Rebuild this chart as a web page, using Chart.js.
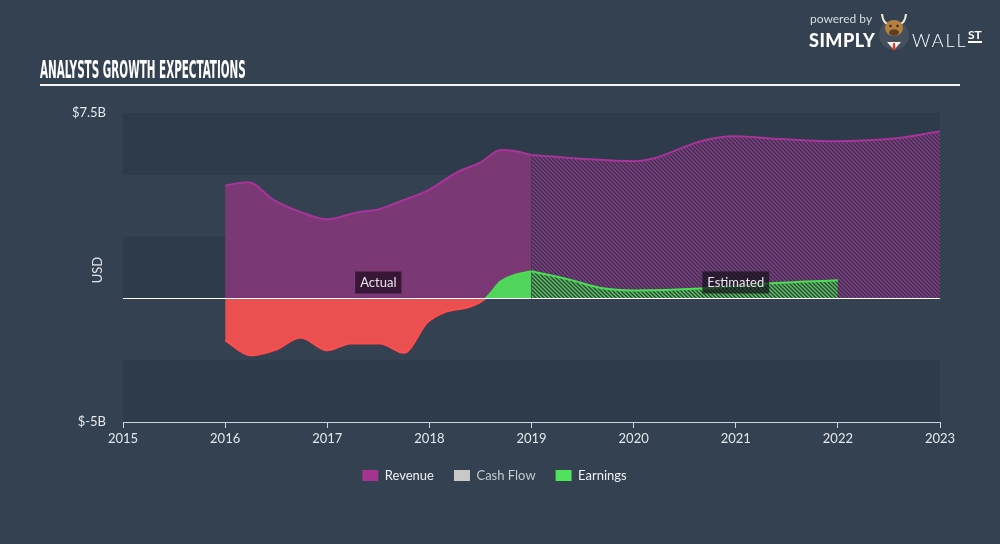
<!DOCTYPE html>
<html>
<head>
<meta charset="utf-8">
<script src="https://cdn.jsdelivr.net/npm/chart.js@4.4.1/dist/chart.umd.min.js"></script>
<style>
  html, body { margin: 0; padding: 0; background: #334150; }
  #wrap { position: relative; width: 1000px; height: 544px; overflow: hidden; font-family: Lato, "Open Sans", sans-serif; }
  #chart { position: absolute; left: 0; top: 0; }
  #title { position: absolute; left: 40px; top: 57px; color: #fff; font-family: "Liberation Sans Narrow", "DejaVu Sans Condensed", sans-serif; font-weight: bold; font-size: 24px; line-height: 26px; white-space: nowrap; transform-origin: 0 0; }
  #rule { position: absolute; left: 40px; top: 84px; width: 920px; height: 2px; background: #f2f4f6; }
  #logo { position: absolute; left: 809px; top: 10px; width: 180px; height: 42px; color: #fff; }
  #logo .pb { position: absolute; left: 1px; top: 1px; font-size: 12px; color: #d9dde2; }
  #logo .simply { position: absolute; left: 0; top: 19px; font-size: 18px; font-weight: 900; letter-spacing: 0.5px; }
  #logo .bull { position: absolute; left: 68px; top: 1px; width: 34px; height: 40px; }
  #logo .wall { position: absolute; left: 103px; top: 19px; font-size: 18px; font-weight: 300; letter-spacing: 2px; }
  #logo .st { position: absolute; left: 159px; top: 18px; font-size: 12px; font-weight: 700; border-bottom: 2px solid #fff; line-height: 13px; }
</style>
</head>
<body>
<div id="wrap">
  <canvas id="chart" width="1000" height="544"></canvas>
  <div id="title">ANALYSTS GROWTH EXPECTATIONS</div>
  <div id="rule"></div>
  <div id="logo">
    <span class="pb">powered by</span>
    <span class="simply">SIMPLY</span>
    <svg class="bull" viewBox="0 0 34 40">
      <circle cx="17" cy="24" r="15" fill="#46505c"/>
      <path d="M5 3 Q6 12 11 13 M29 3 Q28 12 23 13" stroke="#eee6d4" stroke-width="2.2" fill="none"/>
      <ellipse cx="17" cy="17" rx="9" ry="8" fill="#b5803e"/>
      <ellipse cx="17" cy="21.5" rx="5" ry="3.2" fill="#5d3e22"/>
      <circle cx="13.5" cy="15" r="1.2" fill="#222"/>
      <circle cx="20.5" cy="15" r="1.2" fill="#222"/>
      <path d="M10 31 L17 39 L24 31 Z" fill="#f2f2f2"/>
      <path d="M16 32 L18 32 L18.6 39 L15.4 39 Z" fill="#d8402a"/>
    </svg>
    <span class="wall">WALL</span>
    <span class="st">ST</span>
  </div>
</div>
<script>
// Analysts growth expectations (values in $ billions)
const revenueActualX = [2016, 2016.23, 2016.47, 2016.75, 2017, 2017.29, 2017.5, 2017.72, 2018, 2018.27, 2018.5, 2018.7, 2018.85, 2019];
const revenueActualY = [4.57, 4.7, 4.0, 3.48, 3.2, 3.48, 3.6, 3.93, 4.4, 5.1, 5.5, 6.0, 5.95, 5.8];
const revenueEstX = [2019, 2019.48, 2020, 2020.2, 2020.66, 2020.98, 2021.31, 2021.96, 2022.62, 2023];
const revenueEstY = [5.8, 5.65, 5.55, 5.67, 6.36, 6.56, 6.48, 6.36, 6.5, 6.76];

const earningsActualX = [2016, 2016.25, 2016.5, 2016.74, 2017, 2017.23, 2017.52, 2017.75, 2017.98, 2018.14, 2018.4, 2018.55, 2018.7, 2018.85, 2019];
const earningsActualY = [-1.7, -2.3, -2.07, -1.58, -2.1, -1.82, -1.82, -2.2, -0.97, -0.57, -0.33, 0, 0.69, 0.97, 1.1];
const earningsEstX = [2019, 2019.38, 2019.68, 2020, 2020.66, 2021.31, 2022];
const earningsEstY = [1.1, 0.75, 0.42, 0.32, 0.4, 0.6, 0.73];

const yearTicks = [2015, 2016, 2017, 2018, 2019, 2020, 2021, 2022, 2023];
const yTickValues = [-5, 7.5];
const bandEdges = [-5, -2.5, 0, 2.5, 5, 7.5];

const legendNames = ['Revenue', 'Cash Flow', 'Earnings'];
const legendColors = ['#a6338f', '#c9c9c9', '#4fe25a'];

const FONT = 'Lato, "Open Sans", sans-serif';

function toPoints(xs, ys) {
  return xs.map((x, i) => ({ x: x, y: ys[i] }));
}

function makeHatch(bg, stripe) {
  const c = document.createElement('canvas');
  c.width = 4; c.height = 4;
  const g = c.getContext('2d');
  g.fillStyle = bg;
  g.fillRect(0, 0, 4, 4);
  g.strokeStyle = stripe;
  g.lineWidth = 1.3;
  g.beginPath();
  g.moveTo(-1, -1); g.lineTo(5, 5);
  g.moveTo(-1, 3); g.lineTo(1, 5);
  g.moveTo(3, -1); g.lineTo(5, 1);
  g.stroke();
  return g.createPattern(c, 'repeat');
}

const ctx = document.getElementById('chart').getContext('2d');
const revenueHatch = makeHatch('#3a3350', '#8a3d86');
const earningsHatch = makeHatch('#35493f', '#55c85e');

const RED_LINE = '#ff4c4f';
const GREEN_LINE = '#48e052';

// background bands, zero line, USD label and Actual/Estimated boxes
const decorPlugin = {
  id: 'decor',
  beforeDatasetsDraw(chart) {
    const { ctx, chartArea, scales } = chart;
    const y = scales.y;
    ctx.save();
    for (let i = 0; i < bandEdges.length - 1; i++) {
      const top = y.getPixelForValue(bandEdges[i + 1]);
      const bot = y.getPixelForValue(bandEdges[i]);
      ctx.fillStyle = (i % 2 === 0) ? '#2e3b4a' : '#334150';
      ctx.fillRect(chartArea.left, top, chartArea.right - chartArea.left, bot - top);
    }
    ctx.restore();
  },
  afterDatasetsDraw(chart) {
    const { ctx, chartArea, scales } = chart;
    const x = scales.x, y = scales.y;
    const zy = Math.round(y.getPixelForValue(0)) + 0.5;
    ctx.save();
    ctx.strokeStyle = '#ffffff';
    ctx.lineWidth = 1;
    ctx.beginPath();
    ctx.moveTo(chartArea.left, zy);
    ctx.lineTo(chartArea.right, zy);
    ctx.stroke();

    ctx.font = '13px ' + FONT;
    ctx.textAlign = 'center';
    ctx.textBaseline = 'middle';
    const boxes = [['Actual', 2017.5, 'rgba(30,10,30,0.72)'], ['Estimated', 2021.0, 'rgba(20,15,25,0.7)']];
    boxes.forEach(b => {
      const cx = x.getPixelForValue(b[1]);
      const w = ctx.measureText(b[0]).width + 10;
      ctx.fillStyle = b[2];
      ctx.fillRect(cx - w / 2, zy - 27, w, 22);
      ctx.fillStyle = '#e6e6ea';
      ctx.fillText(b[0], cx, zy - 15.5);
    });

    ctx.translate(98, 270);
    ctx.rotate(-Math.PI / 2);
    ctx.fillStyle = '#dfe3e8';
    ctx.fillText('USD', 0, 0);
    ctx.restore();
  }
};

new Chart(ctx, {
  type: 'line',
  data: {
    datasets: [
      {
        label: 'Revenue',
        data: toPoints(revenueActualX, revenueActualY),
        borderColor: '#a8349a',
        backgroundColor: '#7a3874',
        borderWidth: 2,
        fill: 'origin',
        pointRadius: 0,
        cubicInterpolationMode: 'monotone',
        order: 3
      },
      {
        label: 'Cash Flow',
        data: [],
        borderColor: '#c9c9c9',
        backgroundColor: '#c9c9c9',
        order: 5
      },
      {
        label: 'Earnings',
        data: toPoints(earningsActualX, earningsActualY),
        borderColor: GREEN_LINE,
        backgroundColor: '#4fd65a',
        borderWidth: 2,
        fill: { target: 'origin', above: '#4fd65a', below: '#ea5050' },
        segment: {
          borderColor: c => (c.p0.parsed.y < 0 || c.p1.parsed.y < 0) ? RED_LINE : GREEN_LINE
        },
        pointRadius: 0,
        cubicInterpolationMode: 'monotone',
        order: 1
      },
      {
        label: '_revenueEst',
        data: toPoints(revenueEstX, revenueEstY),
        borderColor: '#a8349a',
        backgroundColor: revenueHatch,
        borderWidth: 2,
        fill: 'origin',
        pointRadius: 0,
        cubicInterpolationMode: 'monotone',
        order: 4
      },
      {
        label: '_earningsEst',
        data: toPoints(earningsEstX, earningsEstY),
        borderColor: GREEN_LINE,
        backgroundColor: earningsHatch,
        borderWidth: 2,
        fill: 'origin',
        pointRadius: 0,
        cubicInterpolationMode: 'monotone',
        order: 2
      }
    ]
  },
  options: {
    responsive: false,
    animation: false,
    devicePixelRatio: 1,
    layout: { padding: { left: 49, right: 60, top: 113, bottom: 52 } },
    plugins: {
      tooltip: { enabled: false },
      legend: {
        position: 'bottom',
        onClick: null,
        labels: {
          boxWidth: 16,
          boxHeight: 11,
          padding: 20,
          font: { size: 13, family: FONT },
          generateLabels: () => legendNames.map((name, i) => ({
            text: name,
            fillStyle: legendColors[i],
            strokeStyle: legendColors[i],
            lineWidth: 0,
            fontColor: name === 'Cash Flow' ? '#c4c9d0' : '#eef0f3',
            datasetIndex: i
          }))
        }
      }
    },
    scales: {
      x: {
        type: 'linear',
        min: 2015,
        max: 2023,
        afterBuildTicks: s => { s.ticks = yearTicks.map(v => ({ value: v })); },
        afterFit: s => { s.height = 27; },
        ticks: {
          color: '#e4e8ed',
          padding: 3,
          maxRotation: 0,
          font: { size: 13, family: FONT },
          callback: v => String(v)
        },
        grid: { display: true, drawOnChartArea: false, drawTicks: true, tickLength: 6, color: '#cdd5df' },
        border: { display: true, color: '#cdd5df', width: 1 }
      },
      y: {
        type: 'linear',
        min: -5,
        max: 7.5,
        afterBuildTicks: s => { s.ticks = yTickValues.map(v => ({ value: v })); },
        afterFit: s => { s.width = 74; },
        ticks: {
          color: '#e4e8ed',
          padding: 17,
          font: { size: 13, family: FONT },
          callback: v => v === 7.5 ? '$7.5B' : '$-5B'
        },
        grid: { display: false, drawTicks: false },
        border: { display: false }
      }
    }
  },
  plugins: [decorPlugin]
});

// squeeze the title to the condensed width of the original
const title = document.getElementById('title');
title.style.transform = 'scaleX(' + (206 / title.offsetWidth) + ')';
</script>
</body>
</html>
